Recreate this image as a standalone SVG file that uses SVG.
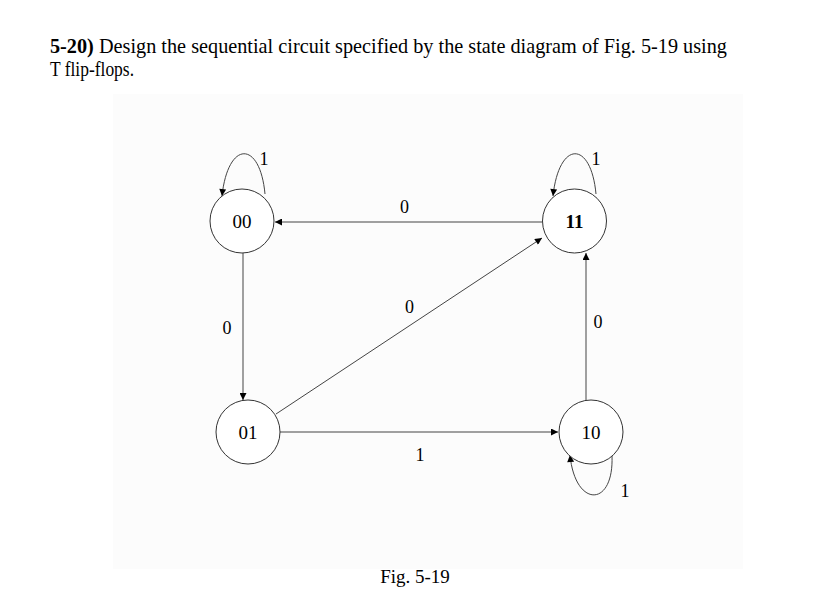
<svg xmlns="http://www.w3.org/2000/svg" width="820" height="613" viewBox="0 0 820 613">
<style>
.t{font-family:"Liberation Serif","Times New Roman",serif;fill:#000}
.node circle{fill:#fff;stroke:#333;stroke-width:1}
.node text{font-family:"Liberation Serif","Times New Roman",serif;font-size:19px;text-anchor:middle;fill:#000}
.edge{fill:none;stroke:#444;stroke-width:1;marker-end:url(#arr)}
.lbl{font-family:"Liberation Serif","Times New Roman",serif;font-size:18px;text-anchor:middle;fill:#000}
</style>
<defs>
<marker id="arr" viewBox="0 0 10 10" refX="10" refY="5" markerWidth="8" markerHeight="7" markerUnits="userSpaceOnUse" orient="auto">
<path d="M0,0 L10,5 L0,10 z" fill="#000"/>
</marker>
</defs>
<rect width="820" height="613" fill="#fff"/>
<rect x="113" y="94" width="630" height="475" fill="#fcfcfc"/>
<text class="t" x="50" y="53" font-size="21" textLength="677" lengthAdjust="spacingAndGlyphs"><tspan font-weight="bold">5-20)</tspan> Design the sequential circuit specified by the state diagram of Fig. 5-19 using</text>
<text class="t" x="50" y="76" font-size="21" textLength="84" lengthAdjust="spacingAndGlyphs">T flip-flops.</text>
<g id="connectors">
<path class="edge" d="M542 222 L275 222"/>
<path class="edge" d="M243 253 L243 400"/>
<path class="edge" d="M276 414 L542 238"/>
<path class="edge" d="M280 432 L558 432"/>
<path class="edge" d="M586 400 L586 253"/>
<path class="edge" d="M265 194 C260 140 228 140 222 196"/>
<path class="edge" d="M596 194 C591 140 559 140 553 196"/>
<path class="edge" d="M612 456 C614 508 575 508 570 455"/>
<text class="lbl" x="404.5" y="213">0</text>
<text class="lbl" x="409.5" y="313">0</text>
<text class="lbl" x="227" y="334">0</text>
<text class="lbl" x="598" y="328">0</text>
<text class="lbl" x="420" y="461">1</text>
<text class="lbl" x="264" y="165">1</text>
<text class="lbl" x="596" y="165">1</text>
<text class="lbl" x="625" y="497">1</text>
</g>
<g id="s00" class="node"><circle cx="242" cy="221" r="32"/><text x="242" y="228">00</text></g>
<g id="s11" class="node"><circle cx="574.5" cy="221" r="32"/><text x="574.5" y="228" font-weight="bold">11</text></g>
<g id="s01" class="node"><circle cx="248" cy="432" r="32"/><text x="248" y="439">01</text></g>
<g id="s10" class="node"><circle cx="591" cy="432" r="32"/><text x="591" y="439">10</text></g>
<text class="t" x="415" y="583" font-size="19" text-anchor="middle">Fig. 5-19</text>
</svg>
